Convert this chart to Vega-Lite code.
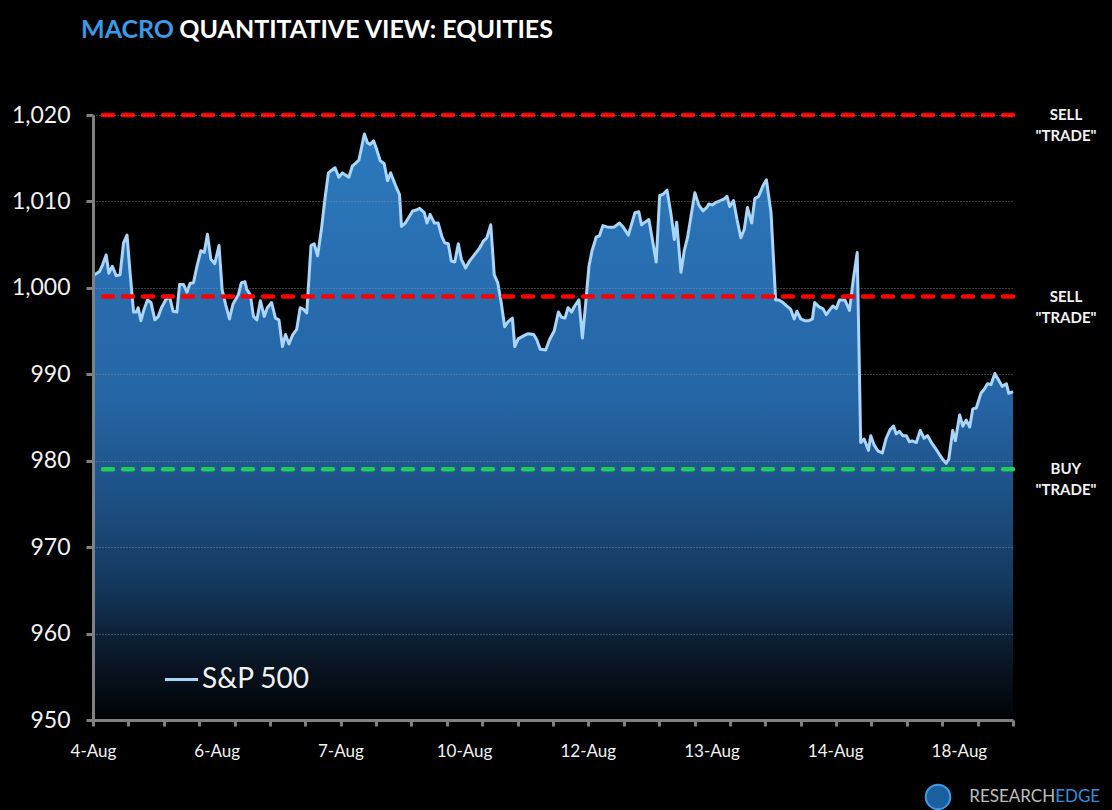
{
  "$schema": "https://vega.github.io/schema/vega-lite/v6.json",
  "autosize": {"type": "none"},
  "padding": {"left": 93, "top": 115, "right": 99, "bottom": 90},
  "width": 920,
  "height": 605,
  "background": "#000000",
  "config": {"view": {"stroke": null}, "font": "Lato"},
  "datasets": {
    "spx": [
      {"t":0,"v":1001.4},{"t":1.7,"v":1001.9},{"t":2.5,"v":1002.7},{"t":3.4,"v":1003.8},{"t":4.1,"v":1001.7},{"t":5.0,"v":1002.5},{"t":6.0,"v":1001.4},{"t":7.0,"v":1001.5},{"t":7.9,"v":1005.2},{"t":8.8,"v":1006.1},{"t":9.6,"v":1001.7},{"t":10.5,"v":997.2},{"t":11.2,"v":997.2},{"t":11.7,"v":997.7},{"t":12.4,"v":996.2},{"t":13.2,"v":997.5},{"t":14.1,"v":998.6},{"t":15.0,"v":998.3},{"t":16.0,"v":996.3},{"t":16.9,"v":996.7},{"t":17.7,"v":997.7},{"t":18.8,"v":998.6},{"t":19.8,"v":999.0},{"t":20.7,"v":997.3},{"t":21.7,"v":997.2},{"t":22.4,"v":1000.4},{"t":23.4,"v":1000.4},{"t":24.3,"v":999.5},{"t":25.1,"v":1000.5},{"t":26.0,"v":1000.6},{"t":26.9,"v":1002.5},{"t":27.9,"v":1004.3},{"t":28.8,"v":1004.1},{"t":29.6,"v":1006.2},{"t":30.5,"v":1003.3},{"t":31.5,"v":1002.8},{"t":32.6,"v":1004.9},{"t":33.4,"v":999.8},{"t":34.3,"v":998.1},{"t":35.3,"v":996.4},{"t":36.2,"v":998.1},{"t":37.6,"v":999.2},{"t":38.4,"v":1000.6},{"t":39.3,"v":1000.7},{"t":39.8,"v":999.8},
      {"t":40.7,"v":999.2},{"t":41.5,"v":996.7},{"t":42.4,"v":996.3},{"t":43.3,"v":998.5},{"t":44.3,"v":996.7},{"t":45.1,"v":997.7},{"t":46.2,"v":998.3},{"t":47.2,"v":996.5},{"t":48.1,"v":996.3},{"t":49.0,"v":993.2},{"t":49.8,"v":994.6},{"t":50.7,"v":993.5},{"t":51.7,"v":994.6},{"t":52.7,"v":995.2},{"t":53.6,"v":997.7},{"t":54.5,"v":997.5},{"t":55.3,"v":997.1},{"t":56.4,"v":1004.9},{"t":57.2,"v":1005.1},{"t":58.1,"v":1003.7},{"t":59.1,"v":1006.8},{"t":60.0,"v":1010.3},{"t":60.9,"v":1013.3},{"t":62.6,"v":1013.9},{"t":63.6,"v":1012.8},{"t":64.5,"v":1013.3},{"t":66.2,"v":1012.8},{"t":67.1,"v":1014.1},{"t":67.9,"v":1014.4},{"t":68.8,"v":1014.8},{"t":70.2,"v":1017.8},{"t":71.0,"v":1016.8},{"t":71.7,"v":1016.6},{"t":72.6,"v":1017.0},{"t":73.4,"v":1016.0},{"t":74.3,"v":1014.7},{"t":75.3,"v":1014.4},{"t":76.2,"v":1012.4},{"t":77.0,"v":1013.3},{"t":78.3,"v":1011.8},{"t":79.3,"v":1010.8},
      {"t":79.8,"v":1007.1},{"t":80.8,"v":1007.5},{"t":82.7,"v":1008.9},{"t":83.6,"v":1009.0},{"t":84.5,"v":1009.2},{"t":85.7,"v":1008.7},{"t":86.4,"v":1007.5},{"t":87.2,"v":1008.5},{"t":88.3,"v":1007.5},{"t":89.3,"v":1007.5},{"t":90.2,"v":1006.0},{"t":91.0,"v":1005.2},{"t":91.9,"v":1005.1},{"t":92.7,"v":1003.1},{"t":93.6,"v":1003.0},{"t":94.5,"v":1005.1},{"t":95.3,"v":1003.3},{"t":96.4,"v":1002.3},{"t":97.4,"v":1003.1},{"t":98.8,"v":1003.9},{"t":100.0,"v":1004.6},{"t":101.0,"v":1005.4},{"t":101.9,"v":1005.8},{"t":102.9,"v":1007.3},{"t":103.8,"v":1001.5},{"t":104.7,"v":1000.6},{"t":105.5,"v":998.6},{"t":106.5,"v":995.5},{"t":107.4,"v":996.1},{"t":108.5,"v":996.5},{"t":109.1,"v":993.2},{"t":110.0,"v":994.1},{"t":111.6,"v":994.5},{"t":112.6,"v":994.7},{"t":114.0,"v":994.6},{"t":114.8,"v":994.0},{"t":115.7,"v":992.9},{"t":117.1,"v":992.8},{"t":118.1,"v":994.0},
      {"t":119.3,"v":995.0},{"t":120.4,"v":997.2},{"t":121.2,"v":996.6},{"t":122.1,"v":996.5},{"t":122.9,"v":997.7},{"t":123.8,"v":997.2},{"t":124.6,"v":997.9},{"t":125.7,"v":998.6},{"t":126.6,"v":994.2},{"t":127.4,"v":997.9},{"t":128.3,"v":1002.5},{"t":129.1,"v":1004.3},{"t":130.2,"v":1005.9},{"t":131.0,"v":1006.0},{"t":131.9,"v":1007.2},{"t":133.3,"v":1007.0},{"t":134.7,"v":1007.0},{"t":136.2,"v":1007.5},{"t":137.2,"v":1007.0},{"t":138.5,"v":1006.1},{"t":140.2,"v":1008.7},{"t":141.2,"v":1008.8},{"t":141.9,"v":1007.3},{"t":142.8,"v":1007.6},{"t":143.8,"v":1007.9},{"t":145.7,"v":1003.0},{"t":146.6,"v":1010.7},{"t":147.4,"v":1010.8},{"t":148.5,"v":1011.3},{"t":149.5,"v":1008.6},{"t":150.4,"v":1005.6},{"t":151.0,"v":1007.6},{"t":152.1,"v":1001.8},{"t":153.0,"v":1004.4},{"t":153.8,"v":1005.8},{"t":154.7,"v":1008.3},{"t":155.7,"v":1011.0},{"t":156.7,"v":1009.6},{"t":157.8,"v":1008.9},{"t":158.8,"v":1009.3},
      {"t":159.3,"v":1009.7},{"t":160.2,"v":1009.6},{"t":161.2,"v":1009.9},{"t":162.3,"v":1010.1},{"t":163.3,"v":1010.3},{"t":164.0,"v":1010.6},{"t":164.7,"v":1009.4},{"t":165.7,"v":1010.1},{"t":166.6,"v":1007.9},{"t":167.6,"v":1005.8},{"t":168.5,"v":1006.8},{"t":169.3,"v":1009.3},{"t":170.4,"v":1007.5},{"t":171.2,"v":1010.3},{"t":172.2,"v":1010.6},{"t":173.3,"v":1011.8},{"t":174.2,"v":1012.5},{"t":175.4,"v":1008.7},{"t":176.6,"v":998.6},{"t":177.4,"v":998.6},{"t":178.5,"v":998.3},{"t":179.5,"v":997.9},{"t":180.5,"v":997.5},{"t":181.4,"v":996.4},{"t":182.1,"v":997.3},{"t":183.1,"v":996.4},{"t":184.1,"v":996.2},{"t":185.2,"v":996.2},{"t":186.1,"v":996.4},{"t":186.7,"v":998.3},{"t":187.8,"v":997.8},{"t":188.8,"v":997.6},{"t":189.7,"v":996.9},{"t":190.5,"v":997.4},{"t":191.4,"v":997.9},{"t":192.3,"v":997.6},{"t":193.1,"v":998.6},{"t":194.5,"v":998.6},{"t":195.7,"v":997.4},{"t":196.7,"v":1001.0},{"t":197.7,"v":1004.1},
      {"t":198.6,"v":982.1},{"t":199.5,"v":982.5},{"t":200.6,"v":981.2},{"t":201.2,"v":982.9},{"t":202.1,"v":981.8},{"t":203.1,"v":981.1},{"t":204.2,"v":980.9},{"t":205.2,"v":982.6},{"t":206.2,"v":983.6},{"t":207.1,"v":984.0},{"t":207.8,"v":983.1},{"t":208.6,"v":983.4},{"t":209.5,"v":982.9},{"t":210.4,"v":982.9},{"t":211.2,"v":982.2},{"t":211.9,"v":982.3},{"t":213.0,"v":982.1},{"t":214.0,"v":983.5},{"t":215.0,"v":982.6},{"t":215.9,"v":982.9},{"t":216.9,"v":982.1},{"t":218.0,"v":981.4},{"t":219.0,"v":980.7},{"t":219.9,"v":980.1},{"t":220.7,"v":979.7},{"t":221.4,"v":980.2},{"t":222.4,"v":983.5},{"t":223.1,"v":982.3},{"t":224.2,"v":985.3},{"t":225.0,"v":984.0},{"t":225.9,"v":984.7},{"t":226.8,"v":983.9},{"t":227.6,"v":986.0},{"t":228.5,"v":986.1},{"t":229.7,"v":987.8},{"t":230.6,"v":988.3},{"t":231.4,"v":988.9},{"t":232.3,"v":988.8},{"t":233.3,"v":990.1},{"t":234.2,"v":989.4},{"t":235.2,"v":988.6},{"t":236.3,"v":988.9},{"t":236.9,"v":987.8},{"t":238,"v":988.0}
    ],
    "levels": [
      {"level": 1020, "signal": "SELL", "label": "SELL\n\"TRADE\""},
      {"level": 999, "signal": "SELL", "label": "SELL\n\"TRADE\""},
      {"level": 979, "signal": "BUY", "label": "BUY\n\"TRADE\""}
    ],
    "one": [{}]
  },
  "resolve": {"axis": {"x": "independent"}, "scale": {"color": "independent"}},
  "layer": [
    {
      "data": {"name": "spx"},
      "mark": {
        "type": "area",
        "line": false,
        "fill": {
          "gradient": "linear", "x1": 0, "y1": 0, "x2": 0, "y2": 1,
          "stops": [
            {"offset": 0, "color": "#2c78bd"},
            {"offset": 0.45, "color": "#2565a5"},
            {"offset": 0.62, "color": "#1d5085"},
            {"offset": 0.76, "color": "#143960"},
            {"offset": 0.89, "color": "#0a1828"},
            {"offset": 1, "color": "#010204"}
          ]
        }
      },
      "encoding": {
        "x": {
          "field": "t", "type": "quantitative",
          "scale": {"domain": [0, 238], "nice": false, "zero": false},
          "axis": {
            "orient": "bottom", "title": null, "labels": false, "grid": false,
            "values": [0, 9.154, 18.308, 27.462, 36.615, 45.769, 54.923, 64.077, 73.231, 82.385, 91.538, 100.692, 109.846, 119, 128.154, 137.308, 146.462, 155.615, 164.769, 173.923, 183.077, 192.231, 201.385, 210.538, 219.692, 228.846, 238],
            "domainColor": "#808080", "domainWidth": 3,
            "tickColor": "#808080", "tickWidth": 3, "tickSize": 6, "zindex": 1
          }
        },
        "y": {
          "field": "v", "type": "quantitative",
          "scale": {"domain": [950, 1020], "nice": false, "zero": false},
          "axis": {
            "title": null, "values": [950, 960, 970, 980, 990, 1000, 1010, 1020], "format": ",",
            "labelFont": "Lato", "labelFontSize": 23, "labelColor": "#f2f2f2", "labelPadding": 16,
            "domainColor": "#808080", "domainWidth": 3,
            "tickColor": "#808080", "tickWidth": 3, "tickSize": 7,
            "grid": true, "gridColor": "#9a9a9a", "gridDash": [1, 2], "gridWidth": 1, "gridOpacity": 0.8,
            "zindex": 1
          }
        },
        "y2": {"datum": 950}
      }
    },
    {
      "data": {"name": "spx"},
      "mark": {"type": "line", "strokeWidth": 3, "strokeJoin": "round"},
      "encoding": {
        "x": {
          "field": "t", "type": "quantitative",
          "axis": {
            "orient": "bottom", "title": null, "ticks": false, "domain": false, "grid": false,
            "values": [0, 32, 64, 96, 128, 160, 192, 224],
            "labelExpr": "datum.value == 0 ? '4-Aug' : datum.value == 32 ? '6-Aug' : datum.value == 64 ? '7-Aug' : datum.value == 96 ? '10-Aug' : datum.value == 128 ? '12-Aug' : datum.value == 160 ? '13-Aug' : datum.value == 192 ? '14-Aug' : '18-Aug'",
            "labelFont": "Lato", "labelFontSize": 17, "labelColor": "#f2f2f2",
            "labelPadding": 23, "labelFlush": false, "labelOverlap": false
          }
        },
        "y": {"field": "v", "type": "quantitative"},
        "color": {
          "datum": "S&P 500", "type": "nominal",
          "scale": {"domain": ["S&P 500"], "range": ["#a8d5f8"]},
          "legend": {
            "title": null, "orient": "none", "legendX": 70, "legendY": 546,
            "symbolType": "stroke", "symbolStrokeWidth": 3, "symbolSize": 1100,
            "labelFont": "Lato", "labelFontSize": 28, "labelColor": "#f2f2f2", "labelOffset": 2,
            "padding": 0
          }
        }
      }
    },
    {
      "data": {"name": "levels"},
      "mark": {"type": "rule", "strokeWidth": 4.5, "strokeDash": [10, 10], "strokeCap": "round"},
      "encoding": {
        "y": {"field": "level", "type": "quantitative"},
        "color": {
          "field": "signal", "type": "nominal",
          "scale": {"domain": ["SELL", "BUY"], "range": ["#ff0000", "#22cc5a"]},
          "legend": null
        }
      }
    },
    {
      "data": {"name": "levels"},
      "mark": {"type": "text", "lineBreak": "\n", "lineHeight": 21, "font": "Lato", "fontWeight": "bold", "fontSize": 15, "color": "#f2f2f2", "align": "center", "baseline": "middle"},
      "encoding": {
        "x": {"datum": 251.7, "type": "quantitative", "axis": null},
        "y": {"field": "level", "type": "quantitative"},
        "text": {"field": "label"}
      }
    },
    {
      "data": {"name": "one"},
      "mark": {"type": "text", "text": "MACRO", "font": "Lato", "fontWeight": "bold", "fontSize": 25, "color": "#3a9ae6", "align": "left", "baseline": "middle"},
      "encoding": {
        "x": {"datum": -3.1, "type": "quantitative", "axis": null},
        "y": {"datum": 1029.8, "type": "quantitative"}
      }
    },
    {
      "data": {"name": "one"},
      "mark": {"type": "text", "text": "QUANTITATIVE VIEW: EQUITIES", "font": "Lato", "fontWeight": "bold", "fontSize": 25, "color": "#ffffff", "align": "left", "baseline": "middle"},
      "encoding": {
        "x": {"datum": 22.3, "type": "quantitative", "axis": null},
        "y": {"datum": 1029.8, "type": "quantitative"}
      }
    },
    {
      "data": {"name": "one"},
      "mark": {"type": "point", "shape": "circle", "filled": true, "size": 600, "color": "#1c5f9f", "stroke": "#3c9ce2", "strokeWidth": 2, "opacity": 1},
      "encoding": {
        "x": {"datum": 218.6, "type": "quantitative", "axis": null},
        "y": {"datum": 941.1, "type": "quantitative"}
      }
    },
    {
      "data": {"name": "one"},
      "mark": {"type": "text", "text": "RESEARCH", "font": "Lato", "fontSize": 17, "color": "#bdbdbd", "align": "right", "baseline": "middle"},
      "encoding": {
        "x": {"datum": 248.9, "type": "quantitative", "axis": null},
        "y": {"datum": 941.1, "type": "quantitative"}
      }
    },
    {
      "data": {"name": "one"},
      "mark": {"type": "text", "text": "EDGE", "font": "Lato", "fontSize": 17, "color": "#2f8fdc", "align": "left", "baseline": "middle"},
      "encoding": {
        "x": {"datum": 248.9, "type": "quantitative", "axis": null},
        "y": {"datum": 941.1, "type": "quantitative"}
      }
    }
  ]
}
